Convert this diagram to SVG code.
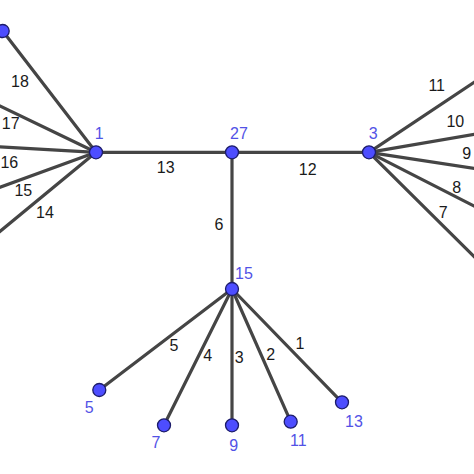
<svg xmlns="http://www.w3.org/2000/svg" width="474" height="474" viewBox="0 0 474 474">
<style>
.e{stroke:#454545;stroke-width:3.2;stroke-linecap:round;fill:none}
.n{fill:#4d4dff;stroke:#1c1c6a;stroke-width:1.3}
.el{font-family:"Liberation Sans",Arial,sans-serif;font-size:16px;fill:#1a1a1a;text-anchor:middle}
.nl{font-family:"Liberation Sans",Arial,sans-serif;font-size:16px;fill:#5252e6;text-anchor:middle}
</style>
<rect width="474" height="474" fill="#ffffff"/>
<g id="connectors">
<line class="e" x1="96" y1="152.3" x2="2.7" y2="31"/>
<line class="e" x1="96" y1="152.3" x2="-2" y2="105"/>
<line class="e" x1="96" y1="152.3" x2="-2" y2="146.7"/>
<line class="e" x1="96" y1="152.3" x2="-2" y2="188"/>
<line class="e" x1="96" y1="152.3" x2="-2" y2="233"/>
<line class="e" x1="96" y1="152.3" x2="369" y2="152.3"/>
<line class="e" x1="232" y1="152.3" x2="232" y2="289"/>
<line class="e" x1="369" y1="152.3" x2="476" y2="81"/>
<line class="e" x1="369" y1="152.3" x2="476" y2="134"/>
<line class="e" x1="369" y1="152.3" x2="476" y2="168.6"/>
<line class="e" x1="369" y1="152.3" x2="476" y2="207"/>
<line class="e" x1="369" y1="152.3" x2="476" y2="258.5"/>
<line class="e" x1="232" y1="289" x2="99.3" y2="390"/>
<line class="e" x1="232" y1="289" x2="164" y2="425.3"/>
<line class="e" x1="232" y1="289" x2="232" y2="425.3"/>
<line class="e" x1="232" y1="289" x2="290.7" y2="421.7"/>
<line class="e" x1="232" y1="289" x2="342" y2="402.3"/>
</g>
<g id="edge-labels">
<text class="el" x="20" y="87">18</text>
<text class="el" x="10.7" y="129.3">17</text>
<text class="el" x="9.3" y="168.3">16</text>
<text class="el" x="23.3" y="196">15</text>
<text class="el" x="45" y="218.3">14</text>
<text class="el" x="165.7" y="173.3">13</text>
<text class="el" x="307.7" y="175.3">12</text>
<text class="el" x="219" y="229.7">6</text>
<text class="el" x="436.7" y="91">11</text>
<text class="el" x="455.3" y="127">10</text>
<text class="el" x="466.7" y="158.7">9</text>
<text class="el" x="456.7" y="192.7">8</text>
<text class="el" x="443.3" y="218.3">7</text>
<text class="el" x="174" y="351">5</text>
<text class="el" x="207.7" y="361">4</text>
<text class="el" x="239.3" y="363.3">3</text>
<text class="el" x="270.7" y="360">2</text>
<text class="el" x="300" y="348.7">1</text>
</g>
<g id="node-top-left"><circle class="n" cx="2.7" cy="31" r="6.5"/></g>
<g id="node-1"><circle class="n" cx="96" cy="152.3" r="6.5"/><text class="nl" x="99.3" y="139.3">1</text></g>
<g id="node-27"><circle class="n" cx="232" cy="152.3" r="6.5"/><text class="nl" x="239" y="138.7">27</text></g>
<g id="node-3"><circle class="n" cx="369" cy="152.3" r="6.5"/><text class="nl" x="373.3" y="139.3">3</text></g>
<g id="node-15"><circle class="n" cx="232" cy="289" r="6.5"/><text class="nl" x="244" y="279.3">15</text></g>
<g id="node-5"><circle class="n" cx="99.3" cy="390" r="6.5"/><text class="nl" x="89.3" y="413">5</text></g>
<g id="node-7"><circle class="n" cx="164" cy="425.3" r="6.5"/><text class="nl" x="156" y="447.7">7</text></g>
<g id="node-9"><circle class="n" cx="232" cy="425.3" r="6.5"/><text class="nl" x="233.7" y="451">9</text></g>
<g id="node-11"><circle class="n" cx="290.7" cy="421.7" r="6.5"/><text class="nl" x="298.3" y="446">11</text></g>
<g id="node-13"><circle class="n" cx="342" cy="402.3" r="6.5"/><text class="nl" x="354" y="426.7">13</text></g>
</svg>
